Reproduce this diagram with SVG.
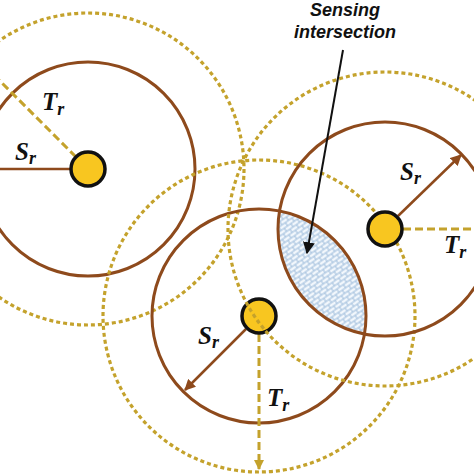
<svg xmlns="http://www.w3.org/2000/svg" width="474" height="474" viewBox="0 0 474 474">
<defs>
<style>
.sense{fill:none;stroke:#8E4A1C;stroke-width:3}
.trans{fill:none;stroke:#C4A22C;stroke-width:3.2;stroke-dasharray:4 3}
.node{fill:#F8C620;stroke:#111;stroke-width:3.5}
.sr{stroke:#8E4A1C;stroke-width:2.5;fill:none}
.tr{stroke:#C4A22C;stroke-width:3;stroke-dasharray:8 4;fill:none}
.lbl{font-family:"Liberation Serif","DejaVu Serif",serif;font-weight:bold;font-style:italic;font-size:25px;fill:#111}
.sub{font-size:18px}
.cap{font-family:"Liberation Sans",Arial,sans-serif;font-weight:bold;font-style:italic;font-size:18px;fill:#111;text-anchor:middle}
</style>
<marker id="ab" viewBox="0 0 10 10" refX="9" refY="5" markerWidth="4.5" markerHeight="4.5" orient="auto" markerUnits="strokeWidth"><path d="M0,0 L10,5 L0,10 Z" fill="#8E4A1C"/></marker>
<marker id="ag" viewBox="0 0 10 10" refX="9" refY="5" markerWidth="3.5" markerHeight="3.5" orient="auto" markerUnits="strokeWidth"><path d="M0,0 L10,5 L0,10 Z" fill="#C4A22C"/></marker>
<marker id="ak" viewBox="0 0 10 10" refX="9" refY="5" markerWidth="6" markerHeight="6" orient="auto" markerUnits="strokeWidth"><path d="M0,0 L10,5 L0,10 Z" fill="#111"/></marker>
<pattern id="hatch" width="8" height="8" patternUnits="userSpaceOnUse" patternTransform="rotate(-35)">
<rect width="8" height="8" fill="#F2F7FC"/>
<path d="M0,2 H8 M0,6 H8 M2,2 V6 M6,6 V10 M6,-2 V2" stroke="#9DBBDB" stroke-width="1" fill="none"/>
</pattern>
</defs>

<g id="intersection">
<path d="M280,210 A107,107 0 0 0 364,334 A107,107 0 0 0 280,210 Z" fill="url(#hatch)"/>
</g>

<g id="node1">
<circle class="sense" cx="88" cy="169" r="107"/>
<circle class="trans" cx="88" cy="169" r="156"/>
<line class="sr" x1="70" y1="169" x2="-2" y2="169"/>
<line class="tr" x1="76" y1="157" x2="-10" y2="71"/>
<circle class="node" cx="88" cy="169" r="17"/>
<text class="lbl" x="42" y="110">T<tspan class="sub" dy="5">r</tspan></text>
<text class="lbl" x="15" y="160">S<tspan class="sub" dy="4">r</tspan></text>
</g>

<g id="node3">
<circle class="sense" cx="259" cy="316" r="107"/>
<circle class="trans" cx="259" cy="316" r="156"/>
<line class="sr" x1="246" y1="329" x2="185" y2="390" marker-end="url(#ab)"/>
<line class="tr" x1="259" y1="334" x2="259" y2="469" marker-end="url(#ag)"/>
<circle class="node" cx="259" cy="316" r="17"/>
<text class="lbl" x="198" y="344">S<tspan class="sub" dy="4">r</tspan></text>
<text class="lbl" x="267" y="406">T<tspan class="sub" dy="5">r</tspan></text>
</g>

<g id="node2">
<circle class="sense" cx="385" cy="229" r="107"/>
<circle class="trans" cx="385" cy="229" r="157"/>
<line class="sr" x1="398" y1="216" x2="461" y2="155" marker-end="url(#ab)"/>
<line class="tr" x1="403" y1="229" x2="476" y2="229"/>
<circle class="node" cx="385" cy="229" r="17"/>
<text class="lbl" x="400" y="180">S<tspan class="sub" dy="4">r</tspan></text>
<text class="lbl" x="444" y="253">T<tspan class="sub" dy="5">r</tspan></text>
</g>

<g id="label">
<text class="cap" x="345" y="16">Sensing</text>
<text class="cap" x="345" y="38">intersection</text>
</g>

<g id="connectors">
<line x1="343" y1="50" x2="307" y2="253" stroke="#111" stroke-width="2" marker-end="url(#ak)"/>
</g>
</svg>
